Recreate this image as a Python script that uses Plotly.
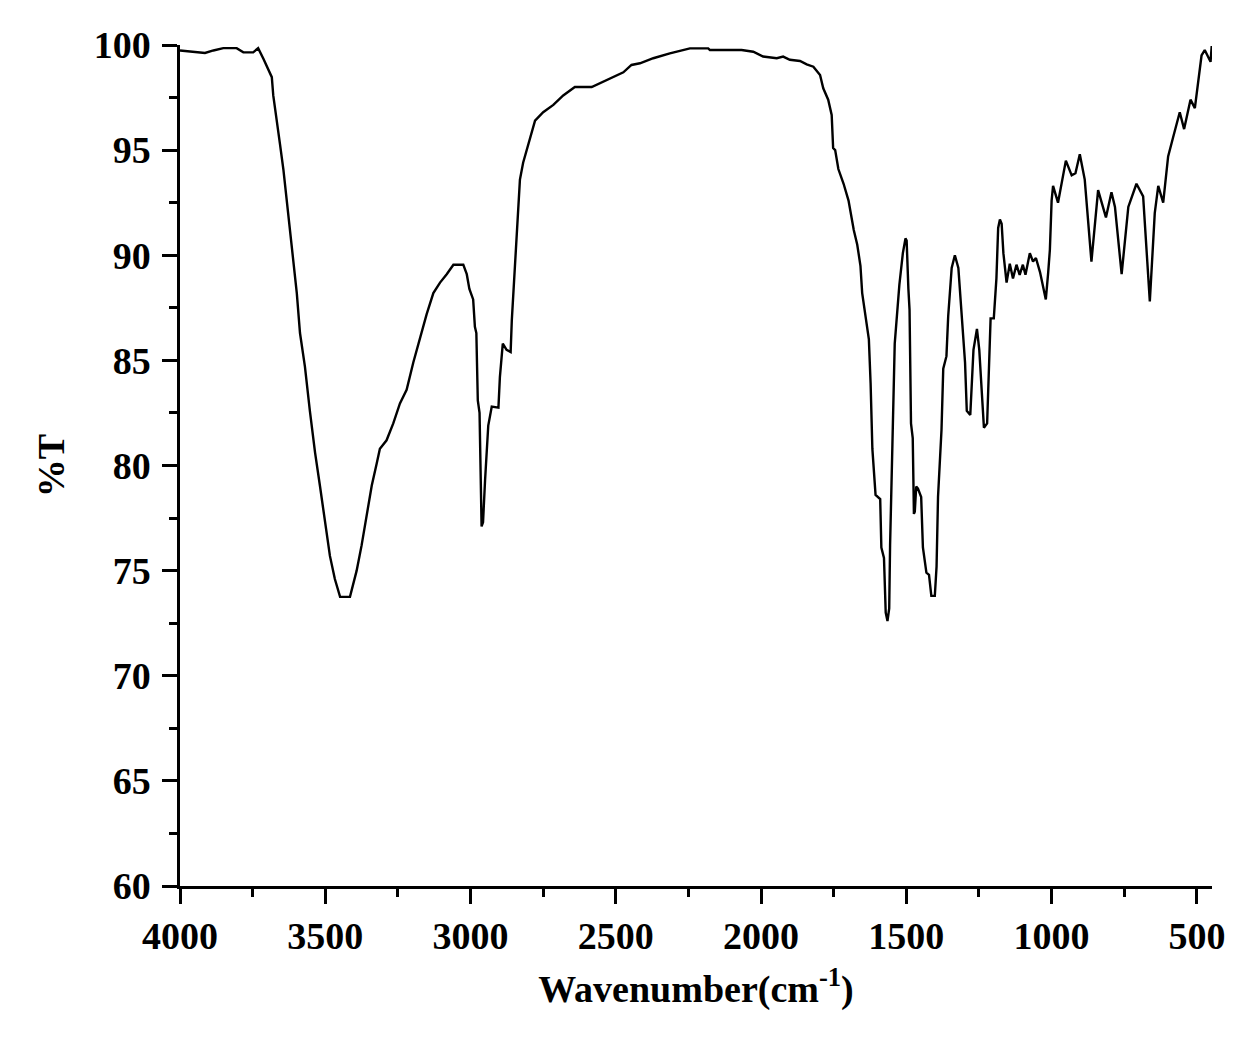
import plotly.graph_objects as go

wavenumber = [4000, 3943, 3914, 3885, 3851, 3805, 3782, 3748, 3731, 3713, 3696, 3684, 3679, 3667,
              3656, 3644, 3633, 3621, 3610, 3598, 3587, 3570, 3553, 3535, 3518, 3501, 3484, 3467,
              3449, 3415, 3404, 3392, 3375, 3358, 3340, 3323, 3312, 3289, 3266, 3243, 3220, 3197,
              3174, 3151, 3128, 3105, 3082, 3059, 3025, 3013, 3004, 2991, 2985, 2980, 2975, 2969,
              2962, 2957, 2950, 2939, 2927, 2904, 2899, 2889, 2876, 2862, 2858, 2847, 2839, 2830,
              2819, 2807, 2796, 2778, 2750, 2715, 2681, 2641, 2583, 2543, 2509, 2474, 2446, 2417,
              2371, 2314, 2245, 2182, 2176, 2067, 2027, 1993, 1946, 1924, 1901, 1866, 1843, 1820,
              1797, 1786, 1769, 1757, 1752, 1745, 1734, 1716, 1699, 1681, 1669, 1658, 1652, 1640,
              1629, 1623, 1617, 1606, 1590, 1586, 1577, 1571, 1565, 1559, 1556, 1548, 1540, 1524,
              1512, 1503, 1499, 1493, 1489, 1484, 1478, 1474, 1471, 1466, 1460, 1449, 1443, 1431,
              1422, 1414, 1402, 1396, 1391, 1379, 1373, 1362, 1356, 1344, 1333, 1321, 1309, 1298,
              1292, 1280, 1269, 1257, 1249, 1239, 1233, 1222, 1216, 1210, 1199, 1190, 1184, 1178,
              1172, 1166, 1155, 1144, 1133, 1121, 1110, 1099, 1090, 1075, 1064, 1054, 1040, 1029,
              1020, 1012, 1006, 1000, 995, 978, 951, 931, 918, 903, 886, 863, 840, 813, 794, 782,
              759, 736, 708, 685, 662, 645, 633, 616, 599, 582, 559, 544, 522, 507, 484, 473, 453, 449]

transmittance = [99.74, 99.65, 99.62, 99.74, 99.85, 99.85, 99.65, 99.65, 99.85, 99.35, 98.8, 98.47, 97.6, 96.5,
                 95.3, 94.06, 92.6, 91.2, 89.8, 88.2, 86.3, 84.7, 82.6, 80.6, 79.0, 77.3, 75.7, 74.6,
                 73.75, 73.75, 74.3, 75.0, 76.2, 77.6, 79.05, 80.1, 80.8, 81.2, 82.0, 82.95, 83.6, 84.9,
                 86.1, 87.2, 88.2, 88.7, 89.1, 89.55, 89.55, 89.1, 88.4, 87.9, 86.6, 86.3, 83.1, 82.5,
                 77.1, 77.3, 79.3, 81.9, 82.8, 82.75, 84.2, 85.8, 85.5, 85.4, 86.9, 89.5, 92.0, 93.6,
                 94.4, 95.0, 95.6, 96.4, 96.8, 97.15, 97.6, 98.0, 98.0, 98.26, 98.5, 98.7, 99.05, 99.13,
                 99.37, 99.6, 99.84, 99.84, 99.76, 99.76, 99.68, 99.45, 99.37, 99.45, 99.3, 99.24, 99.08, 98.97,
                 98.57, 97.94, 97.4, 96.67, 95.1, 95.0, 94.1, 93.4, 92.6, 91.2, 90.5, 89.5, 88.2, 87.0,
                 86.0, 83.9, 80.8, 78.6, 78.4, 76.1, 75.6, 73.0, 72.6, 73.2, 76.2, 81.0, 85.8, 88.6,
                 90.1, 90.8, 90.7, 88.4, 87.4, 82.0, 81.3, 77.7, 77.8, 79.0, 78.9, 78.5, 76.1, 74.9,
                 74.8, 73.8, 73.8, 75.2, 78.5, 81.7, 84.6, 85.2, 87.1, 89.4, 90.0, 89.4, 87.0, 84.9,
                 82.6, 82.4, 85.5, 86.5, 85.5, 82.9, 81.8, 82.0, 84.9, 87.0, 87.0, 88.9, 91.3, 91.7,
                 91.5, 90.1, 88.7, 89.6, 88.9, 89.55, 89.07, 89.55, 89.07, 90.1, 89.7, 89.87, 89.2, 88.4,
                 87.9, 89.15, 90.26, 92.6, 93.3, 92.5, 94.5, 93.8, 93.9, 94.8, 93.6, 89.7, 93.1, 91.8, 93.0, 92.3,
                 89.1, 92.3, 93.4, 92.8, 87.8, 92.0, 93.3, 92.5, 94.7, 95.6, 96.8, 96.0, 97.4, 97.0, 99.5, 99.76, 99.2, 99.95]

x_ticks = [4000, 3500, 3000, 2500, 2000, 1500, 1000, 500]
y_ticks = [60, 65, 70, 75, 80, 85, 90, 95, 100]

FONT = "Liberation Serif"

fig = go.Figure()
fig.add_trace(go.Scatter(x=wavenumber, y=transmittance, mode="lines",
                         line=dict(color="black", width=2.4), showlegend=False))

axis_common = dict(
    showline=True, linecolor="black", linewidth=2.5,
    ticks="outside", ticklen=15, tickwidth=2.5, tickcolor="black",
    showgrid=False, zeroline=False, mirror=False,
    tickfont=dict(family=FONT, size=38, color="black", weight="bold"),
)

fig.update_layout(
    width=1254, height=1047,
    margin=dict(l=180, r=42, t=45, b=161),
    paper_bgcolor="white", plot_bgcolor="white",
    xaxis=dict(range=[4000, 448], tickvals=x_ticks,
               minor=dict(ticks="outside", ticklen=8, tickwidth=2.5, tickcolor="black", dtick=250, tick0=0),
               title=dict(text="Wavenumber(cm<sup>-1</sup>)", standoff=20,
                          font=dict(family=FONT, size=38, color="black", weight="bold")),
               **axis_common),
    yaxis=dict(range=[60, 100], tickvals=y_ticks, ticklabelstandoff=4,
               minor=dict(ticks="outside", ticklen=8, tickwidth=2.5, tickcolor="black", dtick=2.5, tick0=0),
               title=dict(text="%T", standoff=18,
                          font=dict(family=FONT, size=38, color="black", weight="bold")),
               **axis_common),
)

fig.write_html("out.html")
